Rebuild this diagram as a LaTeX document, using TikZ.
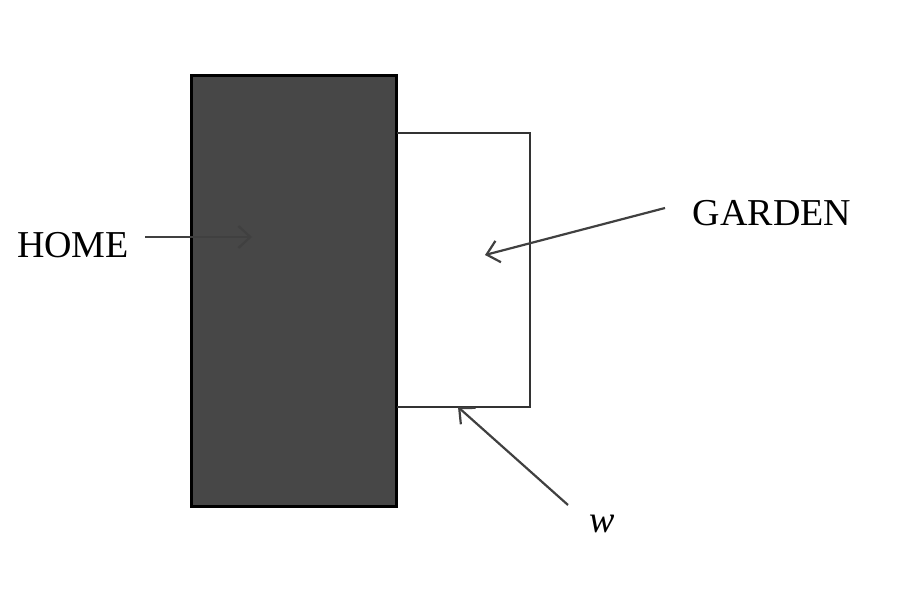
\documentclass[tikz,border=0pt]{standalone}
\usepackage{fontspec}
\setmainfont{Liberation Serif}
\usetikzlibrary{arrows.meta}
\begin{document}
\begin{tikzpicture}[x=1pt,y=-1pt,
  lbl/.style={font=\fontsize{38}{40}\selectfont, inner sep=0},
  arr/.style={draw=black!75, line width=2.2pt, -{Straight Barb[length=12pt,width=22pt]}}]
\useasboundingbox (0,0) rectangle (897,599);
\node[draw=black, line width=3pt, fill=black!72, minimum width=205pt, minimum height=430pt, inner sep=0] (home) at (293.5,291) {};
\draw[line width=2.5pt, black!80] (397,133) -- (530,133) -- (530,407) -- (397,407);
\coordinate (gtip) at (485,255);
\coordinate (htip) at (252,237);
\coordinate (wtip) at (458,407);
\node[lbl] (hl) at (73,245) {HOME};
\node[lbl] (gl) at (772,213) {GARDEN};
\node[lbl, font=\fontsize{38}{40}\selectfont\itshape] (wl) at (602,524) {w};
\draw[arr] (145,237) -- (htip);
\draw[arr] (665,208) -- (gtip);
\draw[arr] (568,505) -- (wtip);
\end{tikzpicture}
\end{document}
